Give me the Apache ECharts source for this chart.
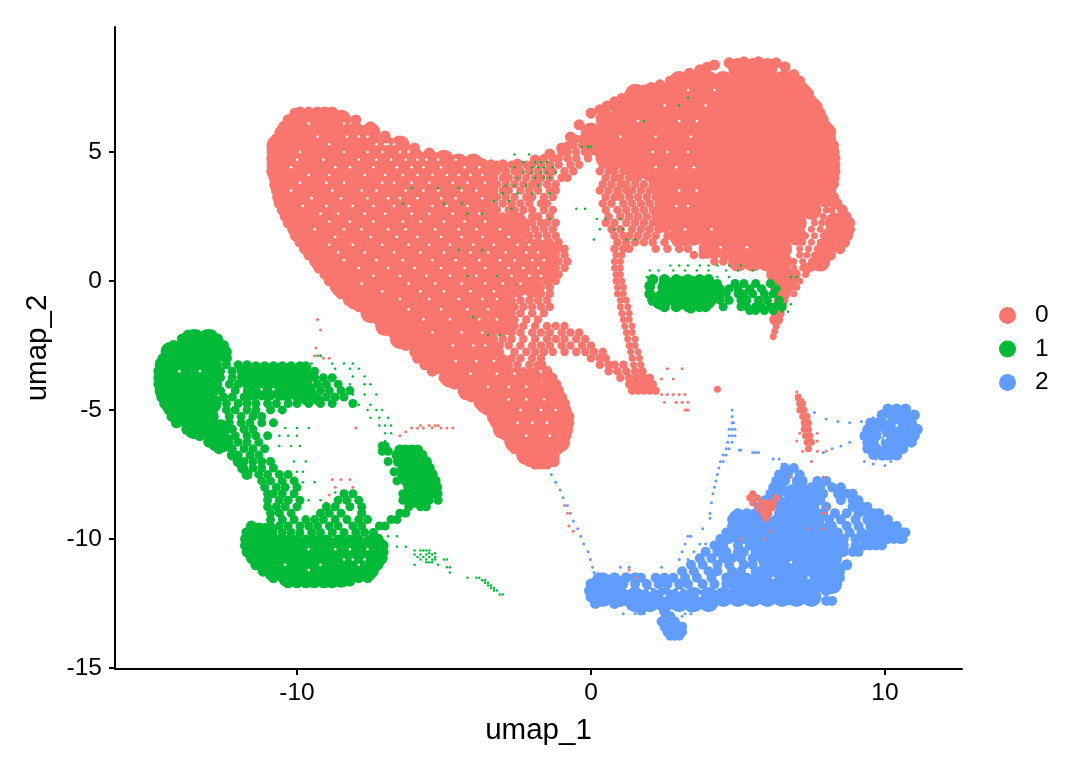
<!DOCTYPE html>
<html>
<head>
<meta charset="utf-8">
<style>html,body{margin:0;background:#fff}#main{width:1080px;height:771px}</style>
<script src="https://cdn.jsdelivr.net/npm/echarts@6/dist/echarts.min.js"></script>
</head>
<body>
<div id="main"></div>
<script>
var clusters = ["0", "1", "2"]
var xTicks = [-10, 0, 10]
var yTicks = [-15, -10, -5, 0, 5]

// every row is [umap_2, [umap_1, ...]]
var red_dense = [
  [8.25,[5,5.5,6]],
  [7.75,[3,3.5,4,4.5,5,5.5,6,6.5,6.8]],
  [7.25,[1.5,2,2.5,3,3.5,4,4.5,5,5.5,6,6.5,7,7.2]],
  [6.75,[1,1.5,2,2.5,3,3.5,4,4.5,5,5.5,6,6.5,7,7.5]],
  [6.25,[-10,-9.5,-9,-8.5,0.5,1,1.5,2,2.5,3,3.5,4,4.5,5,5.5,6,6.5,7,7.5,7.7]],
  [5.75,[-10.4,-10,-9.5,-9,-8.5,-8,-7.5,0,0.5,1,1.5,2,2.5,3,3.5,4,4.5,5,5.5,6,6.5,7,7.5,8]],
  [5.25,[-10.7,-10.5,-10,-9.5,-9,-8.5,-8,-7.5,-7,-6.5,0,0.5,1,1.5,2,2.5,3,3.5,4,4.5,5,5.5,6,6.5,7,7.5,8]],
  [4.75,[-10.7,-10.5,-10,-9.5,-9,-8.5,-8,-7.5,-7,-6.5,-6,0.5,1,1.5,2,2.5,3,3.5,4,4.5,5,5.5,6,6.5,7,7.5,8,8.1]],
  [4.7,[-5.5,-5]],
  [4.55,[-4.5,-4]],
  [4.25,[-10.7,-10.5,-10,-9.5,-9,-8.5,-8,-7.5,-7,-6.5,-6,-5.5,-5,-4.5,-4,-3.5,1.5,2,2.5,3,3.5,4,4.5,5,5.5,6,6.5,7,7.5,8,8.1]],
  [3.75,[-10.6,-10.5,-10,-9.5,-9,-8.5,-8,-7.5,-7,-6.5,-6,-5.5,-5,-4.5,-4,-3.5,2.5,3,3.5,4,4.5,5,5.5,6,6.5,7,7.5,8]],
  [3.25,[-10.5,-10,-9.5,-9,-8.5,-8,-7.5,-7,-6.5,-6,-5.5,-5,-4.5,-4,-3.5,2.5,3,3.5,4,4.5,5,5.5,6,6.5,7,7.5,8]],
  [2.75,[-10.3,-10,-9.5,-9,-8.5,-8,-7.5,-7,-6.5,-6,-5.5,-5,-4.5,-4,-3.5,2.5,3,3.5,4,4.5,5,5.5,6,6.5,7,7.5]],
  [2.25,[-10,-9.5,-9,-8.5,-8,-7.5,-7,-6.5,-6,-5.5,-5,-4.5,-4,-3.5,-3,-2.5,2.5,3,3.5,4,4.5,5,5.5,6,6.5,7,8.3,8.6]],
  [1.75,[-9.8,-9.5,-9,-8.5,-8,-7.5,-7,-6.5,-6,-5.5,-5,-4.5,-4,-3.5,-3,-2.5,3,3.5,4,4.5,5,5.5,6,6.5,7,8.2,8.5]],
  [1.25,[-9.5,-9,-8.5,-8,-7.5,-7,-6.5,-6,-5.5,-5,-4.5,-4,-3.5,-3,-2.5,-2,-1.5,4,4.5,5,5.5,6,6.5,8]],
  [0.75,[-9.2,-9,-8.5,-8,-7.5,-7,-6.5,-6,-5.5,-5,-4.5,-4,-3.5,-3,-2.5,-2,-1.5,5,5.5,6,6.5,7.8]],
  [0.25,[-8.8,-8.5,-8,-7.5,-7,-6.5,-6,-5.5,-5,-4.5,-4,-3.5,-3,-2.5,-2,-1.5,6.3,6.5]],
  [-0.25,[-8.5,-8,-7.5,-7,-6.5,-6,-5.5,-5,-4.5,-4,-3.5,-3,-2.5,-2]],
  [-0.75,[-8,-7.5,-7,-6.5,-6,-5.5,-5,-4.5,-4,-3.5,-3]],
  [-1.25,[-7.5,-7,-6.5,-6,-5.5,-5,-4.5,-4,-3.5,-3]],
  [-1.75,[-7,-6.5,-6,-5.5,-5,-4.5,-4,-3.5,-3]],
  [-2.25,[-6.5,-6,-5.5,-5,-4.5,-4,-3.5]],
  [-2.75,[-5.8,-5.5,-5,-4.5,-4,-3.5]],
  [-3.25,[-5.3,-5,-4.5,-4,-3.5,-3]],
  [-3.75,[-4.8,-4.5,-4,-3.5,-3,-2.5,-2]],
  [-4.25,[-4.2,-4,-3.5,-3,-2.5,-2,-1.5,-1.3]],
  [-4.75,[-3.6,-3.5,-3,-2.5,-2,-1.5,-1.1]],
  [-5.25,[-3.2,-3,-2.5,-2,-1.5,-0.95]],
  [-5.75,[-3,-2.5,-2,-1.5,-1,-0.95]],
  [-6.25,[-2.6,-2.5,-2,-1.5,-1.05]],
  [-6.75,[-2.2,-1.8,-1.4]]
]
var red_edge = [
  [6.55,[-9.9,-9.6,-9.3,-9.05,-8.8]],[6.36,[-8.5]],[6.24,[-8]],[5.97,[-7.5]],[5.62,[-7]],[5.35,[-6.5]],[5.15,[-6]],[4.96,[-5.5]],
  [4.8,[-5]],[4.61,[-4.5]],[4.55,[-4,-3.7]],[4.5,[-3.4,-3]],[4.53,[-2.5]],[4.69,[-1.9]],[4.92,[-1.4]],[5.15,[-1]],[5.58,[-0.7]],
  [6.05,[-0.4]],[6.5,[0]],[6.63,[0.3]],[6.78,[0.55]],[6.94,[0.8]],[7.07,[1.05]],[7.2,[1.3]],[7.3,[1.55]],[7.4,[1.8]],[7.5,[2.05]],[7.6,[2.35]],
  [7.75,[2.7]],[7.9,[3]],[8.05,[3.35]],[8.18,[3.7]],[8.28,[3.95]],[8.37,[4.2]],
  [8.45,[4.7,6.3]],[8.49,[5.2,5.7]],[8.3,[6.6]],[8,[6.9]],
  [7.75,[7.1]],[7.5,[7.2]],[7.25,[7.4]],[7,[7.5]],[6.75,[7.7]],[6.5,[7.8]],[6.25,[7.9]],[6,[8]],[5.75,[8.1]],[5.5,[8.15]],[5.25,[8.25]],
  [5,[8.27]],[4.75,[8.3]],[4.5,[8.3]],[4.25,[8.3]],[4,[8.27]],[3.75,[8.25]],[3.5,[8.15]],[3.25,[8.25]],[3,[8.37]],[2.75,[8.55]],
  [2.5,[8.67]],[2.25,[8.8]],[2,[8.8]],[1.75,[8.73]],[1.5,[8.63]],[1.25,[8.47]],[1,[8.15]],[0.75,[7.8]],[0.5,[7.35]],[0.25,[6.95]],
  [0,[6.77]],[-0.25,[6.67,6.4]],[-0.5,[6.6,6.4]],[-0.75,[6.53,6.4]],[-1,[6.47,6.35]],[-1.25,[6.4,6.3]],[-1.5,[6.35,6.25]],
  [6.5,[-10.07]],[6.25,[-10.3]],[6,[-10.44]],[5.75,[-10.58]],[5.5,[-10.71]],[5.25,[-10.78]],[5,[-10.85]],[4.75,[-10.85]],[4.5,[-10.85]],
  [4.25,[-10.85]],[4,[-10.78]],[3.75,[-10.75]],[3.5,[-10.7]],[3.25,[-10.65]],[3,[-10.6]],[2.75,[-10.5]],[2.5,[-10.4]],[2.25,[-10.3]],
  [2,[-10.15]],[1.75,[-10.05]],[1.5,[-9.9]],[1.25,[-9.75]],[1,[-9.6]],[0.75,[-9.4]],[0.5,[-9.25]],[0.25,[-9.05]],[0,[-8.9]],
  [-0.25,[-8.7]],[-0.5,[-8.5]],[-0.75,[-8.25]],[-1,[-7.9]],[-1.25,[-7.6]],[-1.5,[-7.25]],[-1.75,[-7]],[-2,[-6.75]],[-2.25,[-6.5]],
  [-2.5,[-6.3]],[-2.75,[-6]],[-3,[-5.9]],[-3.25,[-5.65,-1.7]],[-3.5,[-5.4,-1.5]],[-3.75,[-5,-1.33]],[-4,[-4.65,-1.2]],[-4.25,[-4.3,-1.1]],
  [-4.5,[-4.05,-1]],[-4.75,[-3.8,-0.9]],[-5,[-3.55,-0.85]],[-5.25,[-3.35,-0.75]],[-5.5,[-3.25,-0.75]],[-5.75,[-3.1,-0.8]],[-6,[-2.9,-0.85]],
  [-6.25,[-2.75,-1]],[-6.5,[-2.6,-1.1]],[-6.75,[-2.35,-1.3]],[-7,[-2.1,-1.8,-1.5,-1.25]],[-7.1,[-1.9,-1.7,-1.5]]
]
var red_patchy = [
  [5.75,[-0.2,0.1]],
  [5.5,[-0.5,-0.3,0,0.2]],
  [5.25,[-0.8,-0.6,-0.3,0,0.3]],
  [5,[-1,-0.8,-0.5,-0.2,0.2,0.4]],
  [4.75,[-1.6,-1.3,-1.1,-0.8,-0.5,-0.1,0.3,0.5]],
  [4.5,[-3.2,-3,-2.7,-2.5,-2.2,-2,-1.7,-1.4,-1.1,-0.7,-0.4,0.4,0.7,0.9,1.2]],
  [4.25,[-3.2,-2.9,-2.6,-2.4,-2.1,-1.8,-1.5,-1.3,-0.9,-0.6,0.3,0.6,0.8,1.1,1.3]],
  [4,[-3.3,-3,-2.8,-2.5,-2.2,-1.9,-1.7,-1.4,-1,-0.8,0.5,0.8,1,1.3,1.6,2,2.2]],
  [3.75,[-3.2,-2.9,-2.6,-2.3,-2,-1.8,-1.5,-1.2,0.4,0.7,1,1.2,1.5,1.8,2.1]],
  [3.5,[-3.3,-3,-2.8,-2.4,-2.1,-1.8,-1.4,-1.2,0.3,0.6,0.9,1.2,1.4,1.7,2,2.2]],
  [3.25,[-3.2,-2.9,-2.6,-2.2,-2,-1.6,-1.3,0.5,0.8,1,1.3,1.6,1.9,2.2]],
  [3,[-3.3,-3,-2.7,-2.4,-2.1,-1.7,-1.5,0.4,0.7,1.1,1.4,1.7,2,2.3]],
  [2.75,[-3.2,-2.8,-2.6,-2.3,-2,-1.6,-1.3,0.5,0.9,1.2,1.5,1.8,2.1]],
  [2.5,[-3.3,-3,-2.7,-2.4,-2,-1.8,-1.4,0.6,1,1.3,1.6,1.9,2.2,2.4]],
  [2.25,[-2.2,-2,-1.7,-1.5,-1.2,0.5,0.8,1.2,1.5,1.8,2.1]],
  [2,[-2.2,-1.9,-1.6,-1.3,0.7,1,1.4,1.7,2,2.3]],
  [1.75,[-2.1,-1.8,-1.5,-1.2,0.8,1.1,1.3,1.6,1.9,2.2,2.6]],
  [1.5,[-1.8,-1.4,-1.1,0.9,1.2,1.5,1.8,2.1,2.5,2.9,3.2]],
  [1.25,[-1.1,-0.9,0.8,1.1,1.3,2.2,2.6,3,3.3]],
  [1,[-1.2,-0.9,3.5,3.8,4.2,4.6]],
  [0.75,[-1.1,-0.8,4.2,4.5]],
  [0.5,[-1.2,-0.9]],
  [0.25,[-1.1]],
  [0,[-1.5,-1.2]],
  [-0.25,[-1.7,-1.4]],
  [-0.5,[-2,-1.7,-1.4]],
  [-0.75,[-2.7,-2.4,-2.1,-1.8,-1.5]],
  [-1,[-2.6,-2.3,-2,-1.7,-1.4]],
  [-1.25,[-2.7,-2.4,-2,-1.6]],
  [-1.5,[-2.6,-2.2,-1.8]],
  [-1.75,[-2.6,-2.3,-1.9,-1.5,-1.2,-0.9]],
  [-2,[-2.7,-2.4,-2,-1.7,-1.4,-1,-0.7,-0.4]],
  [-2.25,[-3,-2.7,-2.3,-1.9,-1.5,-1.2,-0.9,-0.5,-0.2]],
  [-2.5,[-3.1,-2.8,-2.4,-2,-1.7,-1.4,-1,-0.7,-0.3,0]],
  [-2.75,[-3.1,-2.6,-2.2,-1.9,-1.6,-1.3,-0.9,-0.5,-0.2,0.1,0.4]],
  [-3,[-3,-2.7,-2.4,-2,-1.7,0,0.3,0.5]],
  [-3.25,[-2.8,-2.5,-2.1,-1.8,0.3,0.6,0.8,1.1]],
  [-3.5,[-2.7,-2.3,-1.9,0.6,0.9,1.2,1.5,1.75]],
  [-3.75,[-1.9,-1.6,1,1.3,1.55,1.8,2]],
  [-4,[1.3,1.5,1.7,1.9,2.1]],
  [-4.25,[1.4,1.6,1.8,2,2.2]]
]
var red_thin = [
  [1,[0.85,1.05]],[0.75,[0.8,1]],[0.5,[0.8,1]],[0.25,[0.85,1]],[0,[0.85,1.05]],[-0.25,[0.9,1.1]],[-0.5,[0.9,1.1]],[-0.75,[1,1.2]],
  [-1,[1,1.25]],[-1.25,[1.05,1.3]],[-1.5,[1.1,1.3]],[-1.75,[1.15,1.4]],[-2,[1.2,1.4]],[-2.25,[1.25,1.5]],[-2.5,[1.3,1.5]],
  [-2.75,[1.35,1.6]],[-3,[1.4,1.65]],[-3.25,[1.45,1.7]],
  [3,[7.9,8.1]],[2.75,[7.7,8,8.2]],[2.5,[7.6,7.9,8.2]],[2.25,[7.6,7.85]],[2,[7.5,7.8]],[1.75,[7.3,7.6,7.9]],[1.5,[7.2,7.5,7.8,8.1]],
  [1.25,[7.1,7.4,7.7]],[1,[7.1,7.35,7.6]],
  [0.75,[6.9,7.2,7.5]],[0.5,[6.9,7.2,7.5]],[0.25,[6.9,7.3]],[0,[6.4,6.7,6.9,7.1]],[-0.25,[6.2,6.8,7]],[-0.5,[6.3,6.5,6.9]],
  [-1.75,[6.3]],[-1.95,[6.25]],[-2.15,[6.2]],
  [-4.2,[4.3]],
  [-4.5,[7.05]],[-4.75,[7.1,7.2]],[-5,[7.1,7.25]],[-5.25,[7.2,7.35]],[-5.5,[7.25,7.4]],
  [-5.75,[7.25,7.4]],[-6,[7.3,7.45]],[-6.25,[7.35,7.5]],[-6.5,[7.4]],
  [-8.25,[5.5]],[-8.4,[5.4,5.65,6.3]],[-8.6,[5.5,5.8,6,6.2]],[-8.8,[5.7,5.95,6.15]],
  [-9,[5.85,6.05]],[-9.2,[5.95]]
]
var red_sparse = [
  [-4.4,[2.4,2.6,2.8,3,3.2]],[-4.7,[2.5,2.9,3.1,3.3]],[-5,[3.2,3.25,3.3]],[-3.8,[2.4,2.8]],[-3.4,[2.6,3.1]],
  [-1.5,[-9.3]],[-1.9,[-9.2]],[-2.6,[-9.35]],[-2.9,[-9.4,-9.2]],[-3,[-9.1,-8.9]],
  [-5.7,[-8,-6.1,-5.9,-5.7,-5.4,-5.1,-4.9,-4.7]],[-5.6,[-5.8,-5.5,-5.3,-5.2]],[-5.85,[-6.3]],[-6,[-6.5]],
  [-7.7,[-8.8,-8.5,-8.2]],[-8,[-8.7,-8.1]],[-8.3,[-8.9,-8.5]],[-8.6,[-9,-8.4]],
  [-9.5,[-0.75]],[-9,[-0.8]],[-9.7,[-0.6]],[-8.7,[-0.9]],
  [-4.6,[7,7.2]],[-4.3,[7]],[-6.6,[7.2,7.7,8]],[-6.2,[7,7.7]],[-5.9,[7.1,7.7]],[-7,[7.5]],
  [-7.6,[6.8,7.9]],[-9.7,[6.1]],[-10,[5.1,5.9]],[-9.6,[7.4,7.9]],[-9,[7.9,8]],[-8.8,[8]],
  [-11.5,[1.55]],[-11.2,[1.3]]
]
var green_dense = [
  [-0.25,[2.6,3,3.5,3.9]],
  [-0.75,[2.4,3,3.5,3.9]],
  [-2.25,[-13.5,-13]],
  [-2.75,[-14.3,-14,-13.5,-13,-12.7]],
  [-3.25,[-14.5,-14,-13.5,-13]],
  [-3.75,[-14.5,-14,-13.5,-13,-11.7,-11.5,-11,-10.5,-10,-9.8]],
  [-4.25,[-14.5,-14,-13.5,-13,-11.5,-11,-10.5,-10,-9.7]],
  [-4.75,[-14.3,-14,-13.5,-13,-12.9]],
  [-5.25,[-14,-13.5,-13]],
  [-5.75,[-13.5,-13,-12.6]],
  [-6.25,[-12.7,-12.5]],
  [-7,[-6.2,-5.9]],
  [-7.25,[-6.1,-5.8]],
  [-7.5,[-6.1,-5.7]],
  [-8,[-6,-5.6]],
  [-8.4,[-6,-5.8]],
  [-9.75,[-11.3,-11]],
  [-10.25,[-11.4,-11,-10.5,-10,-9.5,-9,-8.5,-8,-7.5,-7.3]],
  [-10.75,[-11.3,-11,-10.5,-10,-9.5,-9,-8.5,-8,-7.5,-7.3]],
  [-11.25,[-10.8,-10.5,-10,-9.5,-9,-8.5,-8,-7.6]],
  [-11.5,[-10.3,-10,-9.5,-9,-8.5]]
]
var green_edge = [
  [-2.1,[-13.7,-13.4,-13.1,-12.9]],[-2.25,[-13.9,-12.7]],[-2.5,[-14.2,-12.5]],[-2.75,[-14.4,-12.4]],[-3,[-14.55,-12.4]],[-3.25,[-14.6]],
  [-3.5,[-14.7]],[-3.75,[-14.7]],[-4,[-14.7]],[-4.25,[-14.65]],[-4.5,[-14.6]],[-4.75,[-14.5]],[-5,[-14.35]],[-5.25,[-14.25]],[-5.5,[-14.1]],
  [-5.75,[-13.75]],[-6,[-13.3]],[-6.25,[-13]],[-6.5,[-12.65]],[-6.75,[-12.2]],[-7,[-12]],[-7.25,[-11.85]],[-7.5,[-11.7]],
  [-3.33,[-11.7,-11.4,-11.1,-10.8,-10.5,-10.2,-9.9,-9.7]],[-4.42,[-11.5,-11.2,-10.9,-10.6,-10.3,-10,-9.7,-9.5]],[-4.6,[-9.7,-9.3]],
  [-9.5,[-11.55]],[-9.75,[-11.7]],[-10,[-11.75]],[-10.25,[-11.75]],[-10.5,[-11.7]],[-10.75,[-11.55]],[-11,[-11.4]],[-11.25,[-11.15]],
  [-11.5,[-10.8]],[-11.7,[-10.3,-10,-9.7,-9.4,-9.1,-8.8]],[-11.63,[-8.5,-8.2]],[-11.5,[-7.9,-7.6]],[-11.25,[-7.4]],[-11,[-7.25]],
  [-10.75,[-7.1]],[-10.5,[-7.07]],[-10.25,[-7.07]],[-10,[-7.25]],
  [-6.55,[-6.5,-6.3,-6.1,-5.9]],[-6.75,[-6.6,-5.75]],[-7,[-6.55,-5.6]],[-7.25,[-6.4,-5.5]],[-7.5,[-6.4,-5.4]],[-7.75,[-6.3,-5.3]],
  [-8,[-6.2,-5.25]],[-8.25,[-6.1,-5.5]],[-8.5,[-6,-5.7]],
  [0.05,[2.1,2.5,2.9,3.3,3.7,4]],[-0.2,[2,4.15]],[-0.5,[2,4.2]],[-0.75,[2.1,4.1]],[-1,[2.5,2.9,3.3,3.7,3.9]],[-1.05,[3.4]]
]
var green_patchy = [
  [-0.1,[4.3,4.9,5.2,5.6,6.1]],[-0.3,[4.4,4.7,5,5.4,5.8,6.3]],[-0.5,[4.4,4.6,5,5.2,5.5,5.9,6.2]],
  [-0.75,[4.4,4.7,5.1,5.3,5.7,6,6.4]],[-1,[4.5,5.1,5.3,5.6,5.8,6.1,6.3,6.5]],[-1.15,[5.4,5.6,5.9,6.2]],
  [-3.25,[-12.7,-12.4,-12,-11.7]],[-3.5,[-12.6,-12.2,-11.9,-11.4,-11,-10.6,-10.2,-9.8,-9.4]],
  [-3.75,[-12.6,-12.2,-9.4,-9.1,-8.8]],[-4,[-12.7,-12.3,-12,-9.3,-9,-8.6]],
  [-4.25,[-12.6,-12.1,-9.2,-8.9,-8.5,-8.2]],[-4.5,[-12.5,-12.2,-11.8,-9.4,-9,-8.7,-8.4]],
  [-4.75,[-12.4,-12,-11.7,-11.4,-11,-10.7,-10.3,-10,-9.6,-9.2,-8.8,-8.1]],
  [-5,[-12.4,-12.1,-11.7,-11.4,-10.9,-10.5]],[-5.25,[-12.3,-11.9,-11.5,-11.2]],
  [-5.5,[-12.3,-11.9,-11.6,-11.2,-10.8]],[-5.75,[-12.2,-11.8,-11.5]],
  [-6,[-12.1,-11.7,-11.4,-11]],[-6.25,[-12,-11.7,-11.3]],[-6.5,[-12.2,-11.8,-11.5,-11.1]],
  [-6.75,[-12,-11.6,-11.3]],[-7,[-11.8,-11.5,-11.2,-10.9]],[-7.25,[-11.5,-11.2,-10.8]],
  [-7.5,[-11.3,-11,-10.6,-10.3]],[-7.75,[-11.2,-10.9,-10.5,-10.1]],[-8,[-11.1,-10.7,-10.4,-10]],
  [-8.25,[-11,-10.8,-10.5,-10.1,-8.4,-8.1]],[-8.5,[-11,-10.6,-10.3,-9.9,-8.6,-8.3,-7.9]],
  [-8.75,[-11,-10.7,-10.4,-10,-9,-8.7,-8.2,-7.8]],[-9,[-10.9,-10.6,-10.2,-9.2,-8.9,-8.5,-7.8]],
  [-9.25,[-10.9,-10.5,-10.1,-9.7,-9.4,-9.1,-8.7,-8.3,-7.9,-7.6]],
  [-9.5,[-10.9,-10.6,-10.3,-9.9,-9.6,-9.3,-8.9,-8.6,-8.1,-7.8]],
  [-9.75,[-10.5,-10.2,-9.9,-9.5,-9.2,-8.8,-8.4,-8,-7.7,-7.4]],
  [-10,[-10.7,-10.3,-10,-9.7,-9.3,-9,-8.6,-8.2,-7.9,-7.5]],
  [-7,[-6.9]],[-7.4,[-6.7,-6.5]],[-6.6,[-7.1,-6.9]],[-6.4,[-7.1,-7]],[-7.75,[-6.6,-5.3]],
  [-8.25,[-6.4,-5.3,-5.2]],[-8.5,[-5.5,-5.2,-6.4]],[-8.75,[-5.8,-5.6,-6.2]],[-9,[-6.3,-6.5]],
  [-9.25,[-6.8,-6.6]],[-9.5,[-7.2,-7]]
]
var green_sparse = [
  [-2.9,[-9.3,-9.2]],[-3.2,[-9.5,-8.8,-8.4,-8.1]],[-3.4,[-8.7,-8.2,-7.9]],[-3.7,[-8.1,-7.7]],[-4,[-8.2,-7.7,-7.5]],
  [-4.4,[-8.1,-7.7,-7.3]],[-4.8,[-7.9,-7.5]],[-5,[-7.6,-7.3,-7.1]],[-5.3,[-7.5,-7.2,-6.9]],[-5.6,[-7.2,-7,-6.8]],
  [-5.9,[-7,-6.8]],[-6.2,[-7]],[-5.7,[-9.6,-10,-10.4]],[-6,[-10.6,-10.3,-10]],[-6.4,[-10.6,-10.2,-9.9]],
  [-7,[-10.1,-9.7]],[-7.4,[-10,-9.8]],[-7.8,[-9.8,-9.4]],[-8.2,[-8.7,-8]],[-8.5,[-9.6,-9.2]],
  [-10.7,[-5.9]],[-10.3,[-6.6,-6.3]],[-9.9,[-6.9,-6.6]],
  [-10.45,[-6,-5.8,-5.6,-5.7,-5.5]],[-10.55,[-5.5,-5.3]],
  [-10.6,[-6,-5.8,-5.6,-5.4]],[-10.7,[-5.7,-5.5,-5.3]],[-10.8,[-5.8,-5.6,-5.4,-5.3]],[-10.9,[-5.6,-5.5,-5.4]],
  [-10.8,[-5,-4.9]],[-11,[-6,-5.2]],[-11.1,[-4.9,-4.8]],[-11.3,[-4.8]],
  [-11.5,[-4.2,-3.9,-3.8]],[-11.6,[-3.7,-3.6]],[-11.7,[-3.6,-3.5]],[-11.8,[-3.5,-3.4]],[-11.9,[-3.4,-3.3]],[-12,[-3.3,-3.2]],[-12.15,[-3.1,-3]],
  [4.9,[-2.1,-2.6]],[4.6,[-2.3,-1.9,-1.7,-1.5]],[4.4,[-2.6,-2,-1.8,-1.6,-1.3]],[4.2,[-2.3,-2,-1.7,-1.5,-1.2]],[4,[-2.5,-1.9,-1.6,-1.4]],
  [3.7,[-2.9,-2.6,-2.2,-1.8]],[3.4,[-3,-2.5,-2,-1.4]],[3.1,[-3.3,-2.8]],[2.8,[-2.7,-0.2,-0.5]],[2.4,[-1.4,0.2,0.5,1]],
  [2,[0.3,0.8,1.1]],[1.6,[0.1,1.2,1.5]],[3.6,[-4.5,-5.2,-6.1]],[3,[-5,-4.4,-6.4]],[2.6,[-4.2,-3.7]],[1.2,[-4.5,-3.7]],
  [0.2,[-4.2,-3.2]],[-1.4,[-4]],[-2.1,[-3.1,-3.5]],[5.2,[-0.3,-0.1,0]],[6.2,[1.8]],[6.8,[3]],[7.1,[3.3]],
  [0.6,[2.7,3,3.3,3.7,4,4.3,4.7,5.1]],[0.4,[2,2.3,2.8,3.2,3.6,4,4.6,5,5.5]],
  [0.15,[1.9,2.2,2.5,3.1,3.5,4,4.3,4.7,6.8,7]],[-0.9,[6.6,6.8]],[-1.2,[6.5,6.7]]
]
var blue_dense = [
  [-5.25,[10.4,10.6]],
  [-5.75,[10.2,10.6,10.8]],
  [-6.25,[10.2,10.5]],
  [-6.55,[10.2]],
  [-8.25,[6.9]],
  [-8.75,[6.6,7.2]],
  [-9.25,[5,5.5,6.7,7.2,7.6]],
  [-9.75,[5,5.5,6,6.5,7,7.5,8,9.9]],
  [-10.25,[6,6.5,7,7.5,8,8.2]],
  [-10.75,[6,6.5,7,7.5,8,8.2]],
  [-11.25,[6,6.5,7,7.5,8,8.2,8.3]],
  [-11.75,[0.3,0.5,0.8,5,5.5,6,6.5,7,7.5,8,8.2]],
  [-12.25,[0.4,1,1.5,2,2.5,3,3.5,4,4.5,5,5.5,6,6.5,7,7.5]],
  [-12.45,[1.5,2,2.5,3,3.5,4]]
]
var blue_edge = [
  [-11.5,[0.25,0.4,0.8,1.2,1.5]],[-11.75,[0]],[-12,[-0.05]],[-12.25,[0]],[-12.5,[0.15]],[-12.3,[0.2]],
  [-12.5,[0.8]],[-12.75,[1.7]],[-12.8,[2.5]],[-12.64,[3.4]],[-12.45,[4.1]],[-12.3,[4.7]],[-12.17,[6.1]],[-12.36,[6.8]],[-12.3,[7.4]],
  [-12,[8]],[-11.5,[8.45]],[-11,[8.7]],[-10.5,[8.5]],
  [-4.96,[10.1,10.4,10.7]],[-5.2,[9.9,11]],[-5.5,[9.9,10.9]],[-5.75,[9.7,11.1]],[-6,[9.7,11]],[-6.25,[9.6,10.9]],[-6.5,[9.7,10.6,10.3]],[-6.75,[9.9,10.4,10.1]]
]
var blue_patchy = [
  [-5.5,[9.5,9.7]],[-5.75,[9.4,9.6]],[-6,[9.3,9.6]],[-6.25,[9.4]],[-6.5,[9.4,9.6]],[-6.75,[9.6]],
  [-7.25,[6.6,6.9]],[-7.5,[6.4,6.7,7.1]],
  [-7.75,[6.3,6.6,7,7.2,7.7,8]],[-8,[6.2,6.5,7.2,7.5,7.8,8.2,8.5]],
  [-8.25,[6.1,6.4,7.3,7.6,7.9,8.4,8.7,8.9]],[-8.5,[5.9,6.2,7.4,7.5,7.8,8.5,8.9,9.1]],
  [-8.75,[5.7,6,7.4,7.6,8,8.9,9.2,9.4]],
  [-9,[5,5.3,5.6,5.9,6.4,7.4,7.7,7.9,8.3,8.7,9.1,9.4,9.6,9.8]],
  [-9.25,[4.8,5,5.2,5.5,5.7,6,6.3,6.5,8.1,8.5,9,9.4,9.7,9.9,10.1]],
  [-9.5,[4.8,5.3,5.6,5.9,6.2,8.2,8.7,9.1,9.5,9.8,10,10.2,10.4]],
  [-9.75,[4.6,5.4,5.7,6,8.4,8.8,9.2,9.5,9.8,10,10.2,10.4,10.6,10.7]],
  [-10,[4.4,4.7,5,5.2,5.6,5.9,8.3,8.6,9,9.3,9.6,9.9,10.1,10.3,10.5,10.6]],
  [-10.25,[4.2,4.5,5,5.4,5.7,8.6,9,9.3,9.5,9.7,9.9]],
  [-10.5,[3.9,4.3,4.6,5,5.2,5.6,5.9,8.6,8.9,9.1]],
  [-10.75,[3.7,4.1,4.5,4.8,5.1,5.5,5.8]],
  [-11,[3.4,3.8,4.3,4.7,5.2,5.5,5.9]],
  [-11.25,[3.1,3.5,4,4.3,4.8,5.1,5.6]],
  [-11.5,[1.7,2.2,2.5,2.8,3.2,3.6,4.1,4.6,4.9,5.3,5.7]],
  [-11.75,[1.1,1.5,1.9,2.3,2.6,3,3.3,3.8,4.2,4.6]],
  [-13,[2.55,2.7]],[-13.2,[2.4,2.6,2.85]],[-13.4,[2.5,2.7,2.95,3.1]],[-13.6,[2.6,2.8,3,3.1]],[-13.75,[2.7,2.85,3]],
  [-12.4,[8,8.2]]
]
var blue_sparse = [
  [-7.5,[-1.35]],[-7.8,[-1.2]],[-8.1,[-1.05]],[-8.4,[-0.95]],[-8.7,[-0.8]],[-9,[-0.7]],[-9.3,[-0.6]],[-9.6,[-0.45]],[-9.9,[-0.35]],
  [-10.2,[-0.25]],[-10.5,[-0.1]],[-10.8,[-0.02]],[-11.1,[0.05]],[-11.3,[0.1]],
  [-5,[4.8]],[-5.25,[4.8]],[-5.5,[4.8,4.85]],[-5.75,[4.7,4.8,4.9]],[-6,[4.7,4.8,4.9]],[-6.25,[4.65,4.8]],[-6.5,[4.6,4.7]],[-6.75,[4.5,4.6]],
  [-7,[4.4,4.5]],[-7.25,[4.35]],[-7.5,[4.3]],[-7.75,[4.25]],[-8,[4.2]],[-8.25,[4.15]],[-8.6,[4.1]],[-9,[4.05]],[-9.2,[4.05]],[-9.6,[3.8]],
  [-9.9,[3.3,3.4]],[-10.2,[3.2,3.7,3.9]],[-10.5,[3.1,3.5]],[-10.8,[3,3.3]],[-6.55,[5.05,5.1]],[-6.65,[5.5,5.6,5.7]],[-6.9,[6.2,6.4]],[-7.1,[6.5,6.6]],
  [-4.5,[7]],[-4.8,[7.1]],[-5,[7.3]],[-5.1,[7.6]],[-5.35,[8]],[-5.45,[8.4]],[-5.5,[8.8]],[-5.45,[9.2]],[-5.3,[9.6]],
  [-6.65,[7.9]],[-6.5,[8.2]],[-6.4,[8.5]],[-6.25,[8.8]],[-6.1,[9.2]],[-6,[9.5]],[-5.9,[9.8]],
  [-7,[9.3,10.2]],[-7.1,[9.6]],[-7.15,[10]],[-6.9,[9.9,9.7]],[-6.6,[9.7,9.5]],[-5.5,[9.8,9.9,10.1]],[-5.8,[9.6,9.8]],[-5.2,[9.8,10]],
  [-11.1,[1,1.3,2.4]],[-12.9,[1.1,1.5,1.8,3.2,3.4]],[-13,[3.1]]
]
// places inside the clouds where no cell landed
var empty_specks = [
  [6.1,[-8.4,-9.6]],[5.6,[-9.3,-8.3,-7.9,-7.6]],[5.3,[-8.9,-7.3,-7,-6.9,-6.7]],[5,[-9.9,-8.4,-7.6,-7.1,-6.5,-6.2]],
  [4.7,[-10,-9.1,-7.9,-7.3,-6.8,-6.3,-5.9,-5.6,-5.2,-4.6]],[4.4,[-10.2,-8.7,-8.2,-7.4,-6.6,-6.1,-5.7,-5.1,-4.3,-3.8]],
  [4.1,[-9.6,-8.9,-7.7,-7,-6.4,-5.9,-5.4,-4.9,-4.5,-4.1,-3.7]],[3.8,[-9.9,-9,-8.4,-7.1,-6.7,-6.1,-5.5,-4.7,-4.2,-3.6]],
  [3.5,[-10.2,-8.8,-7.8,-7.3,-6.3,-5.7,-5.2,-4.4,-3.9]],[3.2,[-9.5,-8.5,-7.6,-6.9,-6.5,-5.9,-5.1,-4.6,-3.7]],
  [2.9,[-9.8,-9,-8.1,-7.4,-6.7,-6.2,-5.4,-4.9,-4.2]],[2.6,[-9.2,-8.6,-7.7,-7,-6.1,-5.5,-4.7,-3.8]],
  [2.3,[-8.9,-8.2,-7.4,-6.4,-5.8,-5,-4.3,-3.6]],[2,[-9.4,-8.4,-7.8,-6.9,-6.3,-5.3,-4.5,-3.9,-3.1]],
  [1.7,[-8.7,-7.5,-6.6,-5.9,-5.1,-4.4,-3.7,-2.8]],[1.4,[-8.9,-8.1,-7.1,-6.2,-5.5,-4.8,-4,-3.3,-2.5,-2.1]],
  [1.1,[-8.6,-7.7,-6.7,-5.8,-5,-4.1,-3.5,-2.9,-2.2,-1.8]],[0.8,[-8.4,-7.3,-6.4,-5.4,-4.6,-3.8,-3.1,-2.6,-2,-1.6]],
  [0.5,[-7.9,-6.9,-6,-5.1,-4.3,-3.6,-2.8,-2.3,-1.8]],[0.2,[-7.4,-6.5,-5.6,-4.8,-3.9,-3.2,-2.7,-2.1,-1.7]],
  [-0.1,[-7.8,-6.2,-5.3,-4.4,-3.6,-3,-2.4]],[-0.4,[-7.1,-5.8,-5,-4.1,-3.3]],[-0.7,[-6.5,-5.5,-4.5,-3.7,-3.2]],
  [-1.1,[-6.2,-5.1,-4.2,-3.5]],[-1.5,[-5.7,-4.8,-3.8,-3.2]],[-2,[-5.4,-4.4,-3.7]],[-2.5,[-4.7,-4,-3.6]],
  [-3.1,[-4.6,-3.9,-3.3]],[-3.6,[-4.1,-3.2,-2.6]],[-4.1,[-3.5,-2.8,-2.2]],[-4.6,[-2.8,-2.2,-1.6]],[-5,[-2.4,-1.7,-1.2]],
  [-5.5,[-2.5,-2,-1.5]],[-6,[-2.2,-1.4]],
  [7.4,[3.3,4.2]],[6.8,[2.5,3.9]],[6.2,[1.6,3,3.6]],[5.6,[1,2.2,3.4]],[5,[2.1,2.6,3.3]],[4.4,[2.2,2.9,3.5]],[3.5,[3,3.6]],[2.9,[2.9,3.3]],[2,[3.2,4.1]],[1.3,[4.4,5.3]],
  [-11,[-10.4,-9.2,-7.9]],[-10.4,[-9.6,-8.7,-8.2,-7.6]],[-10.8,[-8.4,-8.1,-7.7]],[-11.2,[-9.6]],[-3.5,[-14,-13.3]],
  [-4.2,[-10.8,-11.2]],[-10.9,[6.8]],[-11.5,[7.4,6.2]],[-12,[3,2]],[-12.2,[2.5,3.7]],[-5.6,[10.4]],[-6.1,[10]]
]

function points(rows){
    return rows.flatMap(function(row){
        return row[1].map(function(x){ return [x, row[0]] })
    })
}

function layer(name, rows, size, color){
    return {
        name: name,
        type: "scatter",
        data: points(rows),
        symbol: "circle",
        symbolSize: size,
        silent: true,
        itemStyle: {color: color, opacity: 1}
    }
}

var colors = {red: "#F8766D", green: "#00BA38", blue: "#619CFF"}
var axisText = {color: "#000", fontSize: 24.5, fontFamily: "Liberation Sans"}
var nameText = {color: "#000", fontSize: 29.5, fontFamily: "Liberation Sans"}

var myChart = echarts.init(document.getElementById("main"))
var option = {
    animation: false,
    backgroundColor: "#fff",
    grid: {left: 115, right: 118, top: 27, bottom: 102},
    legend: {
        data: clusters,
        orient: "vertical",
        left: 994,
        top: 298,
        itemWidth: 17,
        itemHeight: 17,
        itemGap: 8.5,
        icon: "circle",
        selectedMode: false,
        textStyle: {color: "#000", fontSize: 24.5, fontFamily: "Liberation Sans", padding: [0, 0, 0, 14]}
    },
    xAxis: {
        type: "value",
        min: -16.19,
        max: 12.62,
        name: "umap_1",
        nameLocation: "middle",
        nameGap: 47,
        nameTextStyle: nameText,
        splitLine: {show: false},
        axisLine: {onZero: false, lineStyle: {color: "#000", width: 2}},
        axisTick: {length: 6, customValues: xTicks, lineStyle: {color: "#000", width: 2}},
        axisLabel: {customValues: xTicks, margin: 12, ...axisText}
    },
    yAxis: {
        type: "value",
        min: -15.04,
        max: 9.84,
        name: "umap_2",
        nameLocation: "middle",
        nameGap: 62,
        nameTextStyle: nameText,
        splitLine: {show: false},
        axisLine: {onZero: false, lineStyle: {color: "#000", width: 2}},
        axisTick: {length: 6, customValues: yTicks, lineStyle: {color: "#000", width: 2}},
        axisLabel: {customValues: yTicks, margin: 13, ...axisText}
    },
    series: [
        layer("2", blue_dense, 20, colors.blue),
        layer("2", blue_edge, 11, colors.blue),
        layer("2", blue_patchy, 10, colors.blue),
        layer("2", blue_sparse, 3, colors.blue),
        layer("0", red_dense, 20, colors.red),
        layer("0", red_edge, 11, colors.red),
        layer("0", red_patchy, 8.5, colors.red),
        layer("0", red_thin, 7, colors.red),
        layer("0", red_sparse, 3, colors.red),
        layer("1", green_dense, 20, colors.green),
        layer("1", green_edge, 11, colors.green),
        layer("1", green_patchy, 9, colors.green),
        layer("empty", empty_specks, 2.5, "#fff"),
        layer("1", green_sparse, 2.5, colors.green)
    ]
}
myChart.setOption(option)
</script>
</body>
</html>
